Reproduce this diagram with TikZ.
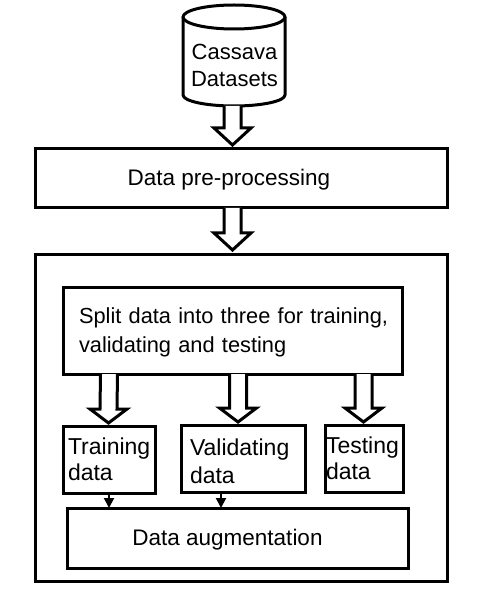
\documentclass[tikz,border=0pt]{standalone}
\usepackage{fontspec}
\setmainfont{Liberation Sans}
\usetikzlibrary{calc,arrows.meta}
\tikzset{
  boxnode/.style={draw=black,line width=3pt,outer sep=0pt,align=left,rectangle,inner sep=0pt},
  blockarrow/.style={draw=black,fill=white,line width=3pt,line join=miter},
  smallarrow/.style={draw=black,line width=2pt,-{Triangle[width=10pt,length=10pt]}},
  dbshape/.style={draw=black,line width=3pt,fill=white,line join=round},
  t22/.style={font=\fontsize{22}{#1}\selectfont},
  t23/.style={font=\fontsize{23}{#1}\selectfont}
}
\newcommand{\dn}[2]{\raisebox{-#1pt}[\height][\depth]{#2}}
% from, tip, head length
\newcommand{\blockarr}[3]{%
  \draw[blockarrow] ($(#1)+(-8.5,0)$) -- ($(#2)+(-8.5,-#3)$) -- ($(#2)+(-18.5,-#3)$)
     -- (#2) -- ($(#2)+(18.5,-#3)$) -- ($(#2)+(8.5,-#3)$) -- ($(#1)+(8.5,0)$);}
\begin{document}
\begin{tikzpicture}[x=1pt,y=-1pt]
\useasboundingbox[fill=white] (0,0) rectangle (479,601);
% database
\draw[dbshape] (183,17) -- (183,95) arc[start angle=180,end angle=0,x radius=51,y radius=11] -- (285,17);
\draw[dbshape] (234,17) ellipse[x radius=51,y radius=12];
\node[t22=27,align=center,inner sep=0pt,minimum width=102pt,minimum height=101pt,anchor=center] (db) at (234.5,65.5) {Cassava\\Datasets};
% boxes
\node[boxnode,font=\fontsize{22.5}{26}\selectfont,minimum width=412pt,minimum height=59pt] (pre) at (241,178.5) {\hspace*{-24pt}\dn{1.5}{Data pre-processing}};
\node[boxnode,minimum width=412pt,minimum height=327pt] (outer) at (241,417.5) {};
\node[boxnode,font=\fontsize{21.8}{29}\selectfont,minimum width=339pt,minimum height=87pt,text width=323pt] (split) at (232.5,330.5) {\hspace*{8pt}\dn{2}{Split data into three for training,}\\\hspace*{8pt}\dn{2}{validating and testing}};
\node[boxnode,t23=26,minimum width=92pt,minimum height=67pt,text width=82pt] (train) at (109,459.5) {Training\\data};
\node[boxnode,t23=27,minimum width=124pt,minimum height=67pt,text width=106pt] (valid) at (243,458.5) {\dn{2.5}{Validating}\\\dn{3}{data}};
\node[boxnode,t23=26,minimum width=78pt,minimum height=67pt,text width=76pt] (test) at (364,458.5) {Testing\\data};
\node[boxnode,font=\fontsize{22.5}{26}\selectfont,minimum width=341pt,minimum height=60pt] (aug) at (237.5,538) {\hspace*{-20pt}\dn{2}{Data augmentation}};
% connectors
\coordinate (a1) at (232.5,106);
\coordinate (t1) at (232.5,145);
\blockarr{a1}{t1}{17}
\coordinate (a2) at (232.5,208);
\coordinate (t2) at (232.5,250);
\blockarr{a2}{t2}{17}
\coordinate (a3) at (split.south -| train.north);
\coordinate (t3) at (108.5,423);
\blockarr{a3}{t3}{14}
\coordinate (a4) at (238,374);
\coordinate (t4) at (238,422);
\blockarr{a4}{t4}{14}
\coordinate (a5) at (363.5,374);
\coordinate (t5) at (363.5,422);
\blockarr{a5}{t5}{14}
\draw[smallarrow] (train.south) -- (train.south |- aug.north);
\coordinate (s2) at (221,492);
\draw[smallarrow] (s2) -- (s2 |- aug.north);
\end{tikzpicture}
\end{document}
